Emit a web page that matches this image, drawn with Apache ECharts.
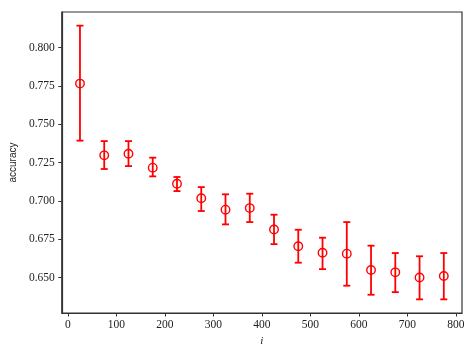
<!DOCTYPE html>
<html>
<head>
<meta charset="utf-8">
<script src="https://cdn.jsdelivr.net/npm/echarts@6/dist/echarts.min.js"></script>
<style>html,body{margin:0;padding:0;background:#fff}#c{width:474px;height:356px}</style>
</head>
<body>
<div id="c"></div>
<script>
const xs = [25, 75, 125, 175, 225, 275, 325, 375, 425, 475, 525, 575, 625, 675, 725, 775];
const means = [0.7766, 0.7298, 0.7309, 0.7218, 0.7113, 0.7018, 0.6944, 0.6954, 0.6815, 0.6705, 0.6663, 0.6657, 0.6550, 0.6535, 0.6502, 0.6511];
const uppers = [0.8144, 0.7391, 0.7391, 0.7283, 0.7157, 0.7091, 0.7044, 0.7048, 0.6911, 0.6813, 0.6761, 0.6863, 0.6709, 0.6661, 0.6640, 0.6661];
const lowers = [0.7394, 0.7209, 0.7228, 0.7161, 0.7065, 0.6935, 0.6848, 0.6863, 0.6719, 0.6598, 0.6556, 0.6448, 0.6389, 0.6406, 0.6359, 0.6359];
const xTicks = [0, 100, 200, 300, 400, 500, 600, 700, 800];
const yTicks = [0.650, 0.675, 0.700, 0.725, 0.750, 0.775, 0.800];

const RED = '#ff0000';
const AX = '#333333';
const chart = echarts.init(document.getElementById('c'), null, {renderer: 'canvas'});
const errData = xs.map((x, i) => [x, lowers[i], uppers[i]]);
const ptData = xs.map((x, i) => [x, means[i]]);

chart.setOption({
  animation: false,
  backgroundColor: '#ffffff',
  grid: {left: 57, right: 12, top: 12, bottom: 43, show: true, borderColor: AX, borderWidth: 1.2, backgroundColor: 'transparent'},
  xAxis: {
    type: 'value', min: -12.5, max: 812.5,
    name: 'i', nameLocation: 'middle', nameGap: 19,
    nameTextStyle: {fontFamily: 'Liberation Serif', fontStyle: 'italic', fontSize: 11, color: '#222'},
    axisLine: {show: true, onZero: false, lineStyle: {color: AX, width: 1.2}},
    axisTick: {show: true, length: 3.5, customValues: xTicks, lineStyle: {color: AX, width: 1}},
    axisLabel: {customValues: xTicks, margin: 6, fontFamily: 'Liberation Serif', fontSize: 11.5, color: '#222',
      formatter: v => String(Math.round(v))},
    splitLine: {show: false}
  },
  yAxis: {
    type: 'value', min: 0.627, max: 0.8233,
    name: 'accuracy', nameLocation: 'middle', nameGap: 38,
    nameTextStyle: {fontFamily: 'Liberation Sans', fontSize: 10, color: '#222'},
    axisLine: {show: true, onZero: false, lineStyle: {color: AX, width: 1.2}},
    axisTick: {show: true, length: 3.5, customValues: yTicks, lineStyle: {color: AX, width: 1}},
    axisLabel: {customValues: yTicks, margin: 7, fontFamily: 'Liberation Serif', fontSize: 11.5, color: '#222',
      formatter: v => v.toFixed(3)},
    splitLine: {show: false}
  },
  series: [
    {
      type: 'custom',
      data: errData,
      renderItem: function (params, api) {
        const x = api.value(0);
        const lo = api.coord([x, api.value(1)]);
        const hi = api.coord([x, api.value(2)]);
        const hw = 3.5;
        const st = {stroke: RED, lineWidth: 1.8};
        return {
          type: 'group',
          children: [
            {type: 'line', shape: {x1: lo[0], y1: lo[1], x2: hi[0], y2: hi[1]}, style: st},
            {type: 'line', shape: {x1: hi[0] - hw, y1: hi[1], x2: hi[0] + hw, y2: hi[1]}, style: st},
            {type: 'line', shape: {x1: lo[0] - hw, y1: lo[1], x2: lo[0] + hw, y2: lo[1]}, style: st}
          ]
        };
      },
      encode: {x: 0, y: [1, 2]},
      z: 2
    },
    {
      type: 'scatter',
      data: ptData,
      symbol: 'circle',
      symbolSize: 8.5,
      itemStyle: {color: 'rgba(0,0,0,0)', borderColor: RED, borderWidth: 1.4, opacity: 1},
      z: 3
    }
  ]
});
</script>
</body>
</html>
